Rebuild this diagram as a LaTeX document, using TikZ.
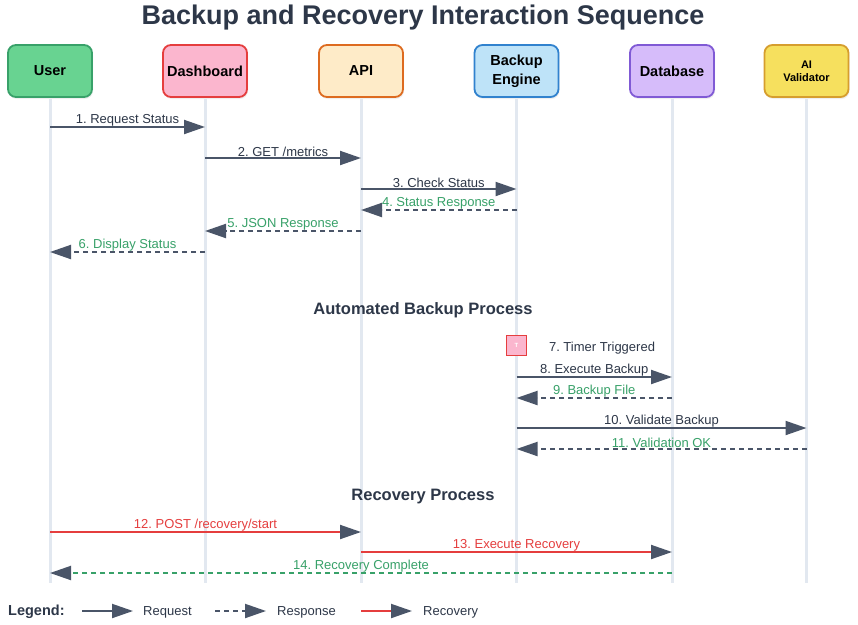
\documentclass[tikz,border=0pt]{standalone}
\usepackage{fontspec}
\setmainfont{Liberation Sans}
\frenchspacing
\usetikzlibrary{arrows.meta,shadows}
\definecolor{ink}{HTML}{4A5568}
\definecolor{titlec}{HTML}{2D3748}
\definecolor{lifec}{HTML}{E2E8F0}
\definecolor{okgreen}{HTML}{38A169}
\definecolor{recred}{HTML}{E53E3E}
\definecolor{userfill}{HTML}{68D391}
\definecolor{userdraw}{HTML}{38A169}
\definecolor{dashfill}{HTML}{FBB6CE}
\definecolor{dashdraw}{HTML}{E53E3E}
\definecolor{apifill}{HTML}{FEEBC8}
\definecolor{apidraw}{HTML}{DD6B20}
\definecolor{engfill}{HTML}{BEE3F8}
\definecolor{engdraw}{HTML}{3182CE}
\definecolor{dbfill}{HTML}{D6BCFA}
\definecolor{dbdraw}{HTML}{805AD5}
\definecolor{aifill}{HTML}{F6E05E}
\definecolor{aidraw}{HTML}{D69E2E}
\begin{document}
\begin{tikzpicture}[x=1pt,y=-1pt,
  actor/.style={draw, rounded corners=8pt, line width=1.8pt, minimum width=84pt, minimum height=52pt,
    inner sep=0pt, align=center, font=\fontsize{14.5}{19}\selectfont\bfseries, text=black,
    drop shadow={opacity=0.12,shadow xshift=1pt,shadow yshift=-2pt}},
  life/.style={draw=lifec, line width=3pt},
  req/.style={draw=ink, line width=2pt, -{Triangle[length=21pt,width=14pt,color=ink]}},
  resp/.style={req, dash pattern=on 5pt off 4pt},
  rec/.style={req, draw=recred},
  lbl/.style={midway, above=0pt, inner sep=0pt, font=\fontsize{13}{15}\selectfont},
  section/.style={font=\fontsize{16.5}{19}\selectfont\bfseries, text=titlec, inner sep=0pt},
  legtext/.style={anchor=west, inner sep=0pt, font=\fontsize{13}{15}\selectfont, text=titlec},
]
\useasboundingbox (0,0) rectangle (858,624);
\fill[white] (0,0) rectangle (858,624);

% title
\node[font=\fontsize{27}{30}\selectfont\bfseries, text=titlec, inner sep=0pt] (title) at (423,17.5) {Backup and Recovery Interaction Sequence};

% participants
\node[actor, fill=userfill, draw=userdraw] (user) at (50,71) {User};
\node[actor, fill=dashfill, draw=dashdraw] (dash) at (205,71) {Dashboard};
\node[actor, fill=apifill, draw=apidraw] (api) at (361,71) {API};
\node[actor, fill=engfill, draw=engdraw] (engine) at (516.5,71) {Backup\\Engine};
\node[actor, fill=dbfill, draw=dbdraw] (db) at (672,71) {Database};
\node[actor, fill=aifill, draw=aidraw, font=\fontsize{11}{13}\selectfont\bfseries] (ai) at (806.5,71) {AI\\Validator};

% lifeline ends
\coordinate (userEnd) at (50,583);
\coordinate (dashEnd) at (205,583);
\coordinate (apiEnd) at (361,583);
\coordinate (engineEnd) at (516.5,583);
\coordinate (dbEnd) at (672,583);
\coordinate (aiEnd) at (806.5,583);

\foreach \p in {user,dash,api,engine,db,ai} {
  \draw[life] ([yshift=-1pt]\p.south) -- (\p End);
}

% status query
\draw[req] (user |- 0,127) -- node[lbl, text=titlec] {1. Request Status} (dash |- 0,127);
\draw[req] (dash |- 0,158) -- node[lbl, text=titlec] {2. GET /metrics} (api |- 0,158);
\draw[req] (api |- 0,189) -- node[lbl, text=titlec] {3. Check Status} (engine |- 0,189);
\draw[resp] (engine |- 0,210) -- node[lbl, text=okgreen] {4. Status Response} (api |- 0,210);
\draw[resp] (api |- 0,231) -- node[lbl, text=okgreen] {5. JSON Response} (dash |- 0,231);
\draw[resp] (dash |- 0,252) -- node[lbl, text=okgreen] {6. Display Status} (user |- 0,252);

% automated backup
\node[section] (autohdr) at (423,310) {Automated Backup Process};
\node[draw=recred, fill=dashfill, line width=0.8pt, minimum size=20pt, inner sep=0pt,
      font=\fontsize{6}{7}\selectfont\bfseries, text=white] (timer) at (516.5,345) {T};
\node[inner sep=0pt, font=\fontsize{13}{15}\selectfont, text=titlec] (timerlbl) at (602,348) {7. Timer Triggered};
\draw[req] (engine |- 0,377) -- node[lbl, text=titlec] {8. Execute Backup} (db |- 0,377);
\draw[resp] (db |- 0,398) -- node[lbl, text=okgreen] {9. Backup File} (engine |- 0,398);
\draw[req] (engine |- 0,428) -- node[lbl, text=titlec] {10. Validate Backup} (ai |- 0,428);
\draw[resp] (ai |- 0,449) -- node[lbl, text=okgreen] {11. Validation OK} (engine |- 0,449);

% recovery
\node[section] (rechdr) at (423,497) {Recovery Process};
\draw[rec] (user |- 0,532) -- node[lbl, text=recred] {12. POST /recovery/start} (api |- 0,532);
\draw[rec] (api |- 0,552) -- node[lbl, text=recred] {13. Execute Recovery} (db |- 0,552);
\draw[resp, draw=okgreen] (db |- 0,573) -- node[lbl, text=okgreen] {14. Recovery Complete} (user |- 0,573);

% legend
\node[anchor=west, inner sep=0pt, font=\fontsize{14.5}{17}\selectfont\bfseries, text=titlec] (legend) at (8,612) {Legend:};
\coordinate (lgAa) at (82,611); \coordinate (lgAb) at (133,611);
\draw[req] (lgAa) -- (lgAb);
\node[legtext] (lgAt) at (143,612) {Request};
\coordinate (lgBa) at (215,611); \coordinate (lgBb) at (266,611);
\draw[resp] (lgBa) -- (lgBb);
\node[legtext] (lgBt) at (277,612) {Response};
\coordinate (lgCa) at (361,611); \coordinate (lgCb) at (412,611);
\draw[rec] (lgCa) -- (lgCb);
\node[legtext] (lgCt) at (423,612) {Recovery};
\end{tikzpicture}
\end{document}
